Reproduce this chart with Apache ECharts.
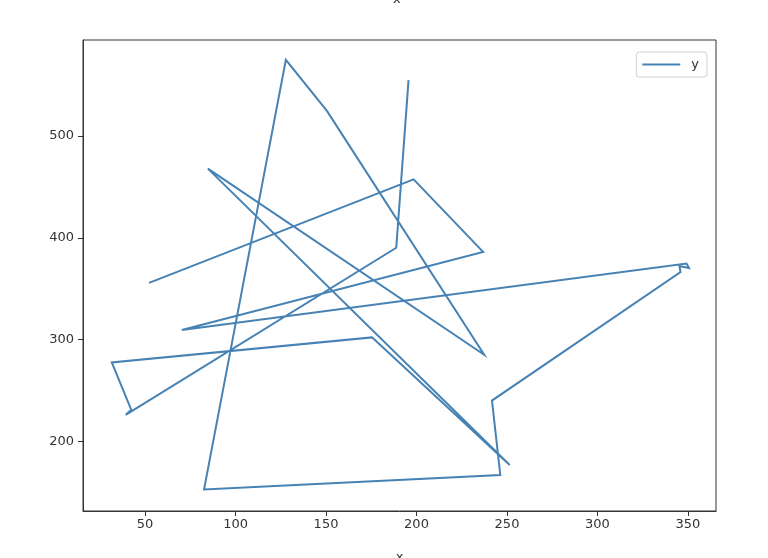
<!DOCTYPE html>
<html>
<head>
<meta charset="utf-8">
<script src="https://cdn.jsdelivr.net/npm/echarts@6/dist/echarts.min.js"></script>
<style>html,body{margin:0;padding:0;background:#fff;overflow:hidden}#c{width:768px;height:558px;position:absolute;left:0;top:0}</style>
</head>
<body>
<div id="c"></div>
<script>
const xValues = [52.2, 198.4, 236.8, 70.3, 349.2, 350.6, 345.3, 345.9, 241.7, 246.3, 82.6, 127.8, 150.5, 237.4, 84.7, 251.5, 175.4, 31.6, 42.4, 39.3, 188.8, 195.6];
const yValues = [355.7, 457.3, 386.2, 309.5, 374.7, 370.3, 372.3, 366.4, 240.3, 167.3, 153.2, 574.6, 524.5, 285.3, 467.8, 177.1, 302.3, 277.7, 231.2, 226.3, 390.2, 554.7];
const xTicks = [50, 100, 150, 200, 250, 300, 350];
const yTicks = [200, 300, 400, 500];
const seriesName = 'y';
const titleText = 'x';
const xLabel = 'x';

const points = xValues.map((x, i) => [x, yValues[i]]);
const font = 'DejaVu Sans';
const chart = echarts.init(document.getElementById('c'), null, {renderer: 'canvas'});
chart.setOption({
  animation: false,
  backgroundColor: '#fff',
  textStyle: {fontFamily: font},
  title: {
    text: titleText, left: 393, top: -7, padding: 0,
    textStyle: {fontFamily: font, fontSize: 13, fontWeight: 'normal', color: '#333'}
  },
  legend: {
    right: 61, top: 52, padding: [6, 8, 6, 6],
    borderColor: '#d0d0d0', borderWidth: 1, borderRadius: 3,
    backgroundColor: '#fff',
    itemWidth: 38, itemHeight: 2, itemGap: 10,
    data: [{name: seriesName, icon: 'rect'}],
    textStyle: {fontFamily: font, fontSize: 13, color: '#333', padding: [0, 0, 0, 6]}
  },
  grid: {
    left: 83, right: 52, top: 40, bottom: 47,
    outerBoundsMode: 'none',
    show: true, borderColor: '#333', borderWidth: 1, containLabel: false
  },
  xAxis: {
    type: 'value', min: 15.7, max: 365.5,
    name: xLabel, nameLocation: 'middle', nameGap: 40,
    nameTextStyle: {fontFamily: font, fontSize: 13, color: '#333'},
    splitLine: {show: false},
    axisLine: {show: true, lineStyle: {color: '#333', width: 1}},
    axisTick: {show: true, inside: false, length: 5, lineStyle: {color: '#333'}, customValues: xTicks},
    axisLabel: {customValues: xTicks, fontFamily: font, fontSize: 13, color: '#333', margin: 7}
  },
  yAxis: {
    type: 'value', min: 132, max: 594,
    splitLine: {show: false},
    axisLine: {show: true, lineStyle: {color: '#333', width: 1}},
    axisTick: {show: true, inside: false, length: 5, lineStyle: {color: '#333'}, customValues: yTicks},
    axisLabel: {customValues: yTicks, fontFamily: font, fontSize: 13, color: '#333', margin: 9}
  },
  series: [{
    name: seriesName, type: 'line', data: points,
    showSymbol: false, symbol: 'none',
    lineStyle: {color: '#4682b4', width: 2, join: 'miter'},
    itemStyle: {color: '#4682b4'}
  }]
});
</script>
</body>
</html>
